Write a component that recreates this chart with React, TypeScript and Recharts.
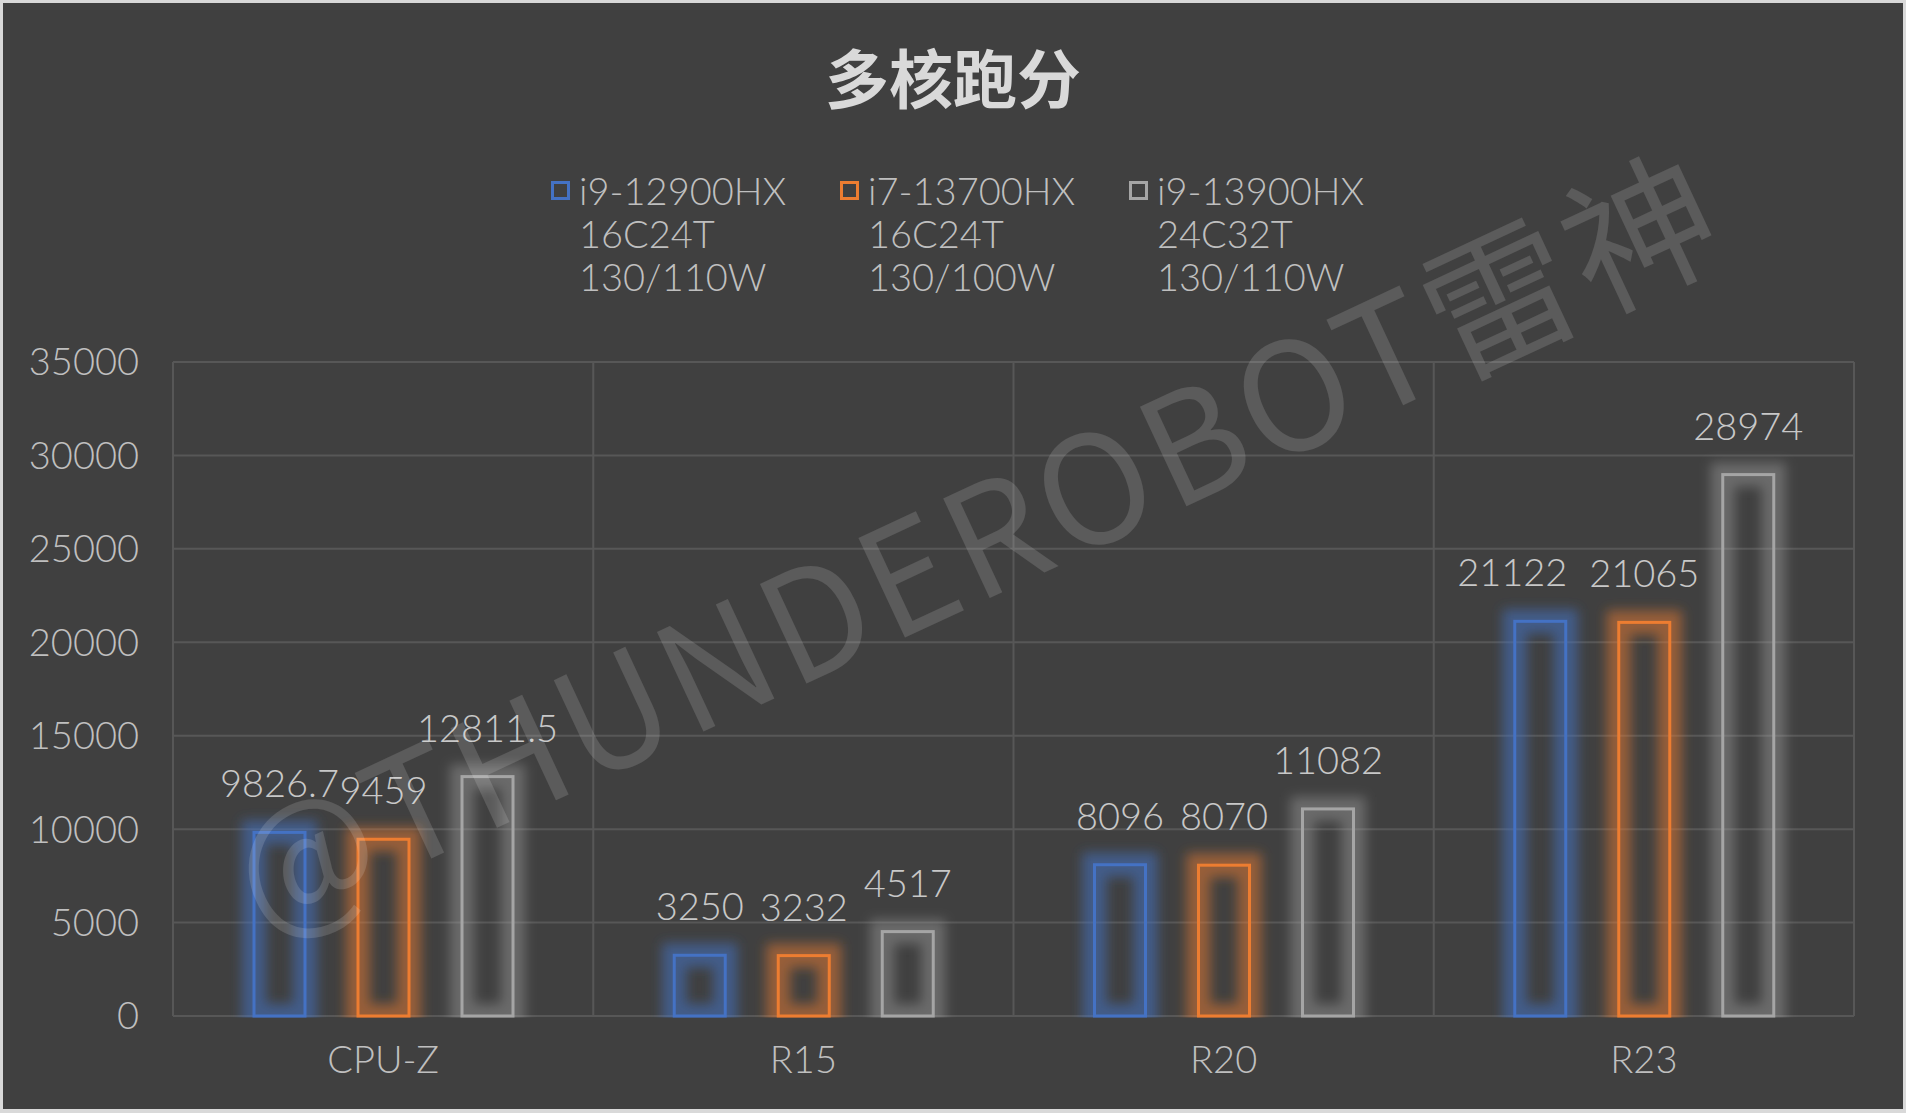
import React from 'react';
import { BarChart, Bar, XAxis, YAxis, CartesianGrid, Legend, LabelList } from 'recharts';

const categories = ['CPU-Z', 'R15', 'R20', 'R23'];
const i9_12900HX = [9826.7, 3250, 8096, 21122];
const i7_13700HX = [9459, 3232, 8070, 21065];
const i9_13900HX = [12811.5, 4517, 11082, 28974];
const yTicks = [0, 5000, 10000, 15000, 20000, 25000, 30000, 35000];

// label nudges (px), where one label was moved to stay clear
const labelShiftA = [0, 0, 0, -28];

const series = [
  { key: 'a', color: '#4472C4', glow: 0.55, lines: ['i9-12900HX', '16C24T', '130/110W'], shift: labelShiftA },
  { key: 'b', color: '#ED7D31', glow: 0.5, lines: ['i7-13700HX', '16C24T', '130/100W'], shift: null },
  { key: 'c', color: '#A5A5A5', glow: 0.42, lines: ['i9-13900HX', '24C32T', '130/110W'], shift: null },
];

const data = categories.map((name, i) => ({
  name,
  a: i9_12900HX[i],
  b: i7_13700HX[i],
  c: i9_13900HX[i],
}));

const W = 1906;
const H = 1113;
const FONT = 'Lato, Roboto, "Noto Sans", sans-serif';
const TEXT = '#BFBFBF';
const tickStyle = { fill: TEXT, fontSize: 38, fontFamily: FONT, fontWeight: 300 };

const legendLeft = [551, 840, 1129];

function makeGlowBar(color: string, glowOpacity: number) {
  return (props: any) => {
    const { x, y, width, height, index } = props;
    if (!height || height <= 0) return null;
    const id = `${color.slice(1)}-${index}`;
    return (
      <g>
        <defs>
          <filter id={`f-${id}`} x="-2" y="-1" width="5" height="3">
            <feGaussianBlur stdDeviation={6} />
          </filter>
          <clipPath id={`c-${id}`}>
            <rect x={x - 40} y={y - 40} width={width + 80} height={height + 41.5} />
          </clipPath>
        </defs>
        <g clipPath={`url(#c-${id})`}>
          <rect
            x={x}
            y={y}
            width={width}
            height={height}
            fill="none"
            stroke={color}
            strokeWidth={24}
            strokeOpacity={glowOpacity}
            filter={`url(#f-${id})`}
          />
        </g>
        <rect x={x} y={y} width={width} height={height} fill="none" stroke={color} strokeWidth={3} />
      </g>
    );
  };
}

function makeLabel(shift: number[] | null) {
  return (props: any) => {
    const { x, y, width, value, index } = props;
    const dx = shift ? shift[index] || 0 : 0;
    return (
      <text
        x={x + width / 2 + dx}
        y={y - 35}
        textAnchor="middle"
        fill="#C8C8C8"
        fontSize={38}
        fontFamily={FONT}
        fontWeight={300}
      >
        {value}
      </text>
    );
  };
}

function renderLegend() {
  return (
    <div style={{ position: 'relative', width: W, height: 130 }}>
      {series.map((s, i) => (
        <div key={s.key} style={{ position: 'absolute', left: legendLeft[i], top: 0 }}>
          <div
            style={{
              position: 'absolute',
              left: 0,
              top: 11,
              width: 19,
              height: 19,
              border: `3px solid ${s.color}`,
              boxSizing: 'border-box',
            }}
          />
          <div
            style={{
              position: 'absolute',
              left: 28,
              top: -1,
              whiteSpace: 'pre',
              color: TEXT,
              fontSize: 38,
              lineHeight: '43px',
              fontFamily: FONT,
              fontWeight: 300,
            }}
          >
            {s.lines.join('\n')}
          </div>
        </div>
      ))}
    </div>
  );
}

export default function App() {
  return (
    <div style={{ position: 'relative', width: W, height: H, background: '#404040', overflow: 'hidden' }}>
      <style>{'body{margin:0}'}</style>
      <BarChart
        width={W}
        height={H}
        data={data}
        margin={{ top: 362, right: 52, bottom: 0, left: 0 }}
        barGap={53}
      >
        <CartesianGrid
          stroke="#575757"
          strokeWidth={2}
          verticalCoordinatesGenerator={({ offset }: any) =>
            [0, 1, 2, 3, 4].map((i) => offset.left + (i * offset.width) / 4)
          }
        />
        <XAxis
          dataKey="name"
          axisLine={false}
          tickLine={false}
          tickSize={0}
          tickMargin={30}
          height={97}
          interval={0}
          tick={tickStyle}
        />
        <YAxis
          domain={[0, 35000]}
          ticks={yTicks}
          width={173}
          axisLine={false}
          tickLine={false}
          tickSize={0}
          tickMargin={34}
          tick={tickStyle}
        />
        <Legend
          layout="horizontal"
          verticalAlign="middle"
          align="center"
          wrapperStyle={{ top: 170, left: 0, width: W, height: 130 }}
          content={renderLegend}
        />
        {series.map((s) => (
          <Bar
            key={s.key}
            dataKey={s.key}
            barSize={51}
            fill={s.color}
            shape={makeGlowBar(s.color, s.glow)}
            isAnimationActive={false}
          >
            <LabelList dataKey={s.key} content={makeLabel(s.shift)} />
          </Bar>
        ))}
      </BarChart>
      <svg
        width={W}
        height={H}
        style={{ position: 'absolute', left: 0, top: 0, pointerEvents: 'none' }}
      >
        <text
          x={953}
          y={75}
          textAnchor="middle"
          dominantBaseline="central"
          fill="#D9D9D9"
          fontSize={64}
          fontWeight={700}
          fontFamily='"Noto Sans CJK SC", sans-serif'
        >
          多核跑分
        </text>
        <text
          x={0}
          y={0}
          transform="translate(970 535) rotate(-25)"
          textAnchor="middle"
          dominantBaseline="central"
          fill="rgba(255,255,255,0.14)"
          fontSize={150}
          fontFamily='"Noto Sans CJK SC", sans-serif'
          textLength={1620}
          lengthAdjust="spacing"
        >
          @THUNDEROBOT雷神
        </text>
      </svg>
      <div
        style={{
          position: 'absolute',
          inset: 0,
          border: '3px solid #D9D9D9',
          borderBottomWidth: 4,
          pointerEvents: 'none',
        }}
      />
    </div>
  );
}
